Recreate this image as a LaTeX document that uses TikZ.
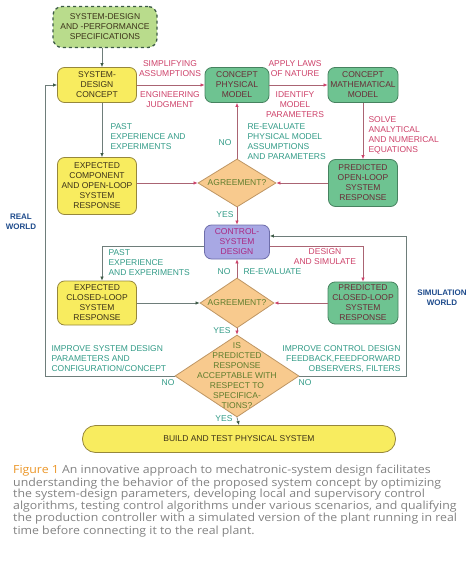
\documentclass[tikz,border=0pt]{standalone}
\usepackage{fontspec}
\setmainfont{Liberation Sans}
\newfontfamily\capfont[FakeStretch=1.1]{Open Sans}
\usetikzlibrary{shapes,shapes.geometric,arrows,positioning,calc,arrows.meta}

\definecolor{boxyellow}{RGB}{248,236,95}
\definecolor{edgeyellow}{RGB}{150,135,60}
\definecolor{boxgreen}{RGB}{110,195,145}
\definecolor{edgegreen}{RGB}{70,130,95}
\definecolor{specgreen}{RGB}{185,220,140}
\definecolor{specedge}{RGB}{60,90,70}
\definecolor{diafill}{RGB}{248,202,142}
\definecolor{diaedge}{RGB}{190,150,100}
\definecolor{csdfill}{RGB}{168,168,228}
\definecolor{csdedge}{RGB}{110,110,170}
\definecolor{csdtext}{RGB}{170,40,130}
\definecolor{labred}{RGB}{205,65,105}
\definecolor{labteal}{RGB}{50,155,135}
\definecolor{txtdark}{RGB}{60,50,25}
\definecolor{txtbrown}{RGB}{105,45,55}
\definecolor{txtolive}{RGB}{95,125,45}
\definecolor{linered}{RGB}{170,100,115}
\definecolor{linegray}{RGB}{110,125,122}
\definecolor{worldblue}{RGB}{30,75,140}
\definecolor{capgray}{RGB}{130,130,130}
\definecolor{figorange}{RGB}{235,150,40}

\begin{document}
\begin{tikzpicture}[x=1pt,y=-1pt,
    every node/.style={font=\fontsize{8.5}{10}\selectfont, align=center},
    ybox/.style={draw=edgeyellow, fill=boxyellow, line width=0.8pt, rounded corners=7pt, inner sep=0pt, text=txtdark},
    gbox/.style={draw=edgegreen, fill=boxgreen, line width=0.8pt, rounded corners=7pt, inner sep=0pt, text=txtbrown},
    decision/.style={diamond, draw=diaedge, fill=diafill, line width=0.8pt, inner sep=0pt},
    dtext/.style={text=txtolive},
    redlab/.style={text=labred},
    teallab/.style={text=labteal},
    redline/.style={draw=linered, line width=0.7pt, -{Latex[color=labred,length=4pt,width=3.5pt]}},
    tealline/.style={draw=linegray, line width=0.7pt, -{Latex[color=specedge,length=4pt,width=3.5pt]}}]
    \useasboundingbox (0,0) rectangle (474,562);

    % Open-loop part
    \node[draw=specedge, fill=specgreen, line width=1.3pt, dashed, rounded corners=9pt,
        minimum width=104pt, minimum height=41pt, inner sep=0pt, text=txtdark] (spec) at (105,27)
        {SYSTEM-DESIGN\\AND -PERFORMANCE\\SPECIFICATIONS};
    \node[ybox, minimum width=79pt, minimum height=35pt] (sdc) at (97,85) {SYSTEM-\\DESIGN\\CONCEPT};
    \node[gbox, minimum width=64pt, minimum height=35pt] (cpm) at (237,85) {CONCEPT\\PHYSICAL\\MODEL};
    \node[gbox, minimum width=70pt, minimum height=35pt] (cmm) at (363,85) {CONCEPT\\MATHEMATICAL\\MODEL};
    \node[gbox, minimum width=69pt, minimum height=47pt] (pol) at (363,183) {PREDICTED\\OPEN-LOOP\\SYSTEM\\RESPONSE};
    \node[ybox, minimum width=79pt, minimum height=57pt] (ecomp) at (97,186) {EXPECTED\\COMPONENT\\AND OPEN-LOOP\\SYSTEM\\RESPONSE};
    \node[decision, minimum width=78pt, minimum height=48pt, label={[dtext]center:AGREEMENT?}] (agr1) at (237,183) {};

    \draw[tealline] ([xshift=5pt]sdc.north |- spec.south) -- ([xshift=5pt]sdc.north);
    \draw[redline] (sdc) -- (cpm);
    \draw[redline] (cpm) -- (cmm);
    \draw[redline] (cmm) -- (pol);
    \draw[redline] (pol) -- (agr1);
    \draw[tealline] ([xshift=5pt]sdc.south) -- ([xshift=5pt]ecomp.north);
    \draw[redline] (ecomp.east |- agr1.west) -- (agr1.west);
    \draw[redline] (agr1.north) -- (cpm.south);

    \node[redlab] at (170,69) {SIMPLIFYING\\ASSUMPTIONS};
    \node[redlab] at (170,100) {ENGINEERING\\JUDGMENT};
    \node[redlab] at (295,69) {APPLY LAWS\\OF NATURE};
    \node[redlab] at (295,105) {IDENTIFY\\MODEL\\PARAMETERS};
    \node[redlab, anchor=west, align=left] at (365,135) {SOLVE\\ANALYTICAL\\AND NUMERICAL\\EQUATIONS};
    \node[teallab, anchor=west, align=left] at (107,137) {PAST\\EXPERIENCE AND\\EXPERIMENTS};
    \node[teallab] at (225,143) {NO};
    \node[teallab, anchor=west, align=left] at (244,142) {RE-EVALUATE\\PHYSICAL MODEL\\ASSUMPTIONS\\AND PARAMETERS};
    \node[teallab] at (225,215) {YES};

    % Closed-loop part
    \node[draw=csdedge, fill=csdfill, line width=0.8pt, rounded corners=7pt, minimum width=65pt,
        minimum height=34pt, inner sep=0pt, text=csdtext] (csd) at (237,242) {CONTROL-\\SYSTEM\\DESIGN};
    \node[ybox, minimum width=79pt, minimum height=44pt] (ecl) at (97,303) {EXPECTED\\CLOSED-LOOP\\SYSTEM\\RESPONSE};
    \node[gbox, minimum width=70pt, minimum height=42pt] (pcl) at (363,303) {PREDICTED\\CLOSED-LOOP\\SYSTEM\\RESPONSE};
    \node[decision, minimum width=74pt, minimum height=50pt, label={[dtext]center:AGREEMENT?}] (agr2) at (237,303) {};
    \node[decision, minimum width=124pt, minimum height=82pt,
        label={[dtext]center:{IS\\PREDICTED\\RESPONSE\\ACCEPTABLE WITH\\RESPECT TO\\SPECIFICA-\\TIONS?}}] (acc) at (237,376) {};
    \node[draw=edgeyellow, fill=boxyellow, line width=0.8pt, rounded corners=13pt, minimum width=313pt,
        minimum height=27pt, inner sep=0pt, text=txtdark] (build) at (239,439) {BUILD AND TEST PHYSICAL SYSTEM};

    \coordinate (realr) at (45,85);
    \coordinate (simr) at (406,236);

    \draw[redline] (agr1.south) -- (csd.north);
    \draw[tealline] ([yshift=-4pt]csd.west) -| ([xshift=5pt]ecl.north);
    \draw[redline] ([yshift=-4pt]csd.east) -| (pcl.north);
    \draw[tealline] (ecl) -- (agr2);
    \draw[redline] (pcl) -- (agr2);
    \draw[redline] (agr2.north) -- (csd.south);
    \draw[redline] (agr2.south) -- (acc.north);
    \draw[tealline] (acc.south) -- (build.north);
    \draw[tealline] (acc.west) -| (realr) -- (sdc.west);
    \draw[tealline] (acc.east) -| (simr) -- (simr -| csd.east);

    \node[teallab, anchor=west, align=left] at (105,263) {PAST\\EXPERIENCE\\AND EXPERIMENTS};
    \node[redlab] at (325,257) {DESIGN\\AND SIMULATE};
    \node[teallab] at (224,272) {NO};
    \node[teallab, anchor=west] at (240,272) {RE-EVALUATE};
    \node[teallab] at (222,331) {YES};
    \node[teallab, anchor=west, align=left] at (48,359) {IMPROVE SYSTEM DESIGN\\PARAMETERS AND\\CONFIGURATION/CONCEPT};
    \node[teallab] at (168,383) {NO};
    \node[teallab, anchor=east, align=right] at (404,359) {IMPROVE CONTROL DESIGN\\FEEDBACK,FEEDFORWARD\\OBSERVERS, FILTERS};
    \node[teallab] at (305,383) {NO};
    \node[teallab] at (224,419) {YES};

    % Worlds
    \node[text=worldblue, font=\fontsize{8}{10}\bfseries] (real) at (21,222) {REAL\\WORLD};
    \node[text=worldblue, font=\fontsize{8}{10}\bfseries] (sim) at (442,298) {SIMULATION\\WORLD};

    % Caption
    \node[anchor=north west, inner sep=0pt, align=left, text=capgray,
        font=\capfont\fontsize{11.2}{11.2}\selectfont] (caption) at (13,465)
        {\textcolor{figorange}{Figure 1} An innovative approach to mechatronic-system design facilitates\\
        understanding the behavior of the proposed system concept by optimizing\\
        the system-design parameters, developing local and supervisory control\\
        algorithms, testing control algorithms under various scenarios, and qualifying\\
        the production controller with a simulated version of the plant running in real\\
        time before connecting it to the real plant.};
\end{tikzpicture}
\end{document}
